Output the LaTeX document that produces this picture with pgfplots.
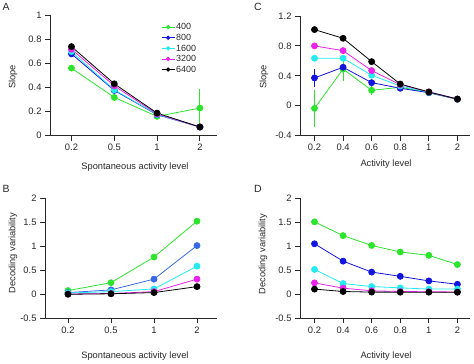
\documentclass[border=0pt]{standalone}
\usepackage{fontspec}
\setmainfont{Liberation Sans}
\usepackage{pgfplots}
\pgfplotsset{compat=1.18}
\definecolor{cG}{RGB}{45,228,45}
\definecolor{cB}{RGB}{20,20,225}
\definecolor{cBb}{RGB}{55,105,230}
\definecolor{cC}{RGB}{35,235,240}
\definecolor{cM}{RGB}{235,35,235}
\definecolor{cK}{RGB}{0,0,0}
\definecolor{axc}{RGB}{40,40,40}
\pgfplotsset{
  panel/.style={
    scale only axis, anchor=south west,
    axis lines=left, axis line style={-, line width=0.9bp, color=axc},
    tick align=outside, major tick length=5bp,
    tick style={line width=0.9bp, color=axc},
    clip=false,
    ticklabel style={font=\fontsize{9.4}{10}\selectfont, text=axc},
    label style={font=\fontsize{9.3}{10}\selectfont, text=axc},
    every axis plot/.append style={line width=0.8bp, mark=*, mark size=3bp},
    error bars/error bar style={line width=0.8bp},
    error bars/error mark=none,
  },
  catA/.style={xmin=-0.502, xmax=3.40, xtick={0,1,2,3}, xticklabels={0.2,0.5,1,2}},
  catC/.style={xmin=-0.507, xmax=5.44, xtick={0,1,2,3,4,5}, xticklabels={0.2,0.4,0.6,0.8,1,2}},
}
\begin{document}
\begin{tikzpicture}
\path[use as bounding box] (0,0) rectangle (474bp,364bp);
% ---------------- A
\begin{axis}[panel, catA, at={(50bp,228.3bp)}, width=167bp, height=120.7bp,
  ymin=0, ymax=1, ytick={0,0.2,0.4,0.6,0.8,1}, yticklabels={0,0.2,0.4,0.6,0.8,1},
  xlabel={Spontaneous activity level}, ylabel={Slope},
  xlabel style={at={(rel axis cs:0.509,-0.26)}, anchor=center},
  ylabel style={at={(rel axis cs:-0.222,0.486)}, anchor=center},
  legend style={at={(rel axis cs:0.665,0.945)}, anchor=north west, draw=none, fill=none,
    font=\fontsize{9}{9.5}\selectfont, text=axc, row sep=0pt, inner sep=0pt,
    nodes={text height=7bp, text depth=1.4bp, inner sep=1.1bp, anchor=west}},
  legend cell align=left,
  legend image code/.code={\draw[mark repeat=2,mark phase=2,#1,mark size=1.7bp] plot coordinates {(0bp,0bp) (6.5bp,0bp) (13bp,0bp)};},
]
\addplot[color=cG, error bars/.cd, y dir=both, y explicit] coordinates {(0,0.56) (1,0.317) (2,0.16) (3,0.229) +- (0,0.155)};
\addplot[color=cB] coordinates {(0,0.678) (1,0.375) (2,0.174) (3,0.072)};
\addplot[color=cC] coordinates {(0,0.697) (1,0.38) (2,0.176) (3,0.072)};
\addplot[color=cM] coordinates {(0,0.716) (1,0.413) (2,0.18) (3,0.072)};
\addplot[color=cK] coordinates {(0,0.738) (1,0.43) (2,0.187) (3,0.072)};
\legend{400,800,1600,3200,6400}
\end{axis}
% ---------------- C
\begin{axis}[panel, catC, at={(300bp,228.3bp)}, width=170bp, height=119.7bp,
  ymin=-0.4, ymax=1.2, ytick={-0.4,0,0.4,0.8,1.2}, yticklabels={-0.4,0,0.4,0.8,1.2},
  xlabel={Activity level}, ylabel={Slope},
  xlabel style={at={(rel axis cs:0.506,-0.236)}, anchor=center},
  ylabel style={at={(rel axis cs:-0.212,0.49)}, anchor=center},
]
\addplot[color=cG, error bars/.cd, y dir=both, y explicit] coordinates {(0,-0.035) +- (0,0.25) (1,0.49) +- (0,0.16) (2,0.207) +- (0,0.06) (3,0.247) (4,0.175) (5,0.087)};
\addplot[color=cB, error bars/.cd, y dir=both, y explicit] coordinates {(0,0.372) +- (0,0.12) (1,0.515) +- (0,0.05) (2,0.309) (3,0.234) (4,0.175) (5,0.087)};
\addplot[color=cC] coordinates {(0,0.635) (1,0.635) (2,0.408) (3,0.265) (4,0.18) (5,0.09)};
\addplot[color=cM] coordinates {(0,0.80) (1,0.737) (2,0.47) (3,0.282) (4,0.185) (5,0.09)};
\addplot[color=cK, error bars/.cd, y dir=both, y explicit] coordinates {(0,1.018) +- (0,0.04) (1,0.902) (2,0.59) (3,0.291) (4,0.184) (5,0.09)};
\end{axis}
% ---------------- B
\begin{axis}[panel, catA, xmin=-0.535, xmax=3.465, at={(45bp,45.5bp)}, width=172bp, height=120bp,
  ymin=-0.5, ymax=2, ytick={-0.5,0,0.5,1,1.5,2}, yticklabels={-0.5,0,0.5,1,1.5,2},
  xlabel={Spontaneous activity level}, ylabel={Decoding variability},
  xlabel style={at={(rel axis cs:0.523,-0.3125)}, anchor=center},
  ylabel style={at={(rel axis cs:-0.186,0.546)}, anchor=center},
]
\addplot[color=cG] coordinates {(0,0.082) (1,0.246) (2,0.78) (3,1.527)};
\addplot[color=cBb] coordinates {(0,0.04) (1,0.096) (2,0.32) (3,1.02)};
\addplot[color=cC] coordinates {(0,0.03) (1,0.06) (2,0.116) (3,0.59)};
\addplot[color=cM] coordinates {(0,0.01) (1,0.02) (2,0.06) (3,0.32)};
\addplot[color=cK] coordinates {(0,0.005) (1,0.015) (2,0.04) (3,0.164)};
\end{axis}
% ---------------- D
\begin{axis}[panel, catC, at={(300bp,45.5bp)}, width=170bp, height=120.5bp,
  ymin=-0.5, ymax=2, ytick={-0.5,0,0.5,1,1.5,2}, yticklabels={-0.5,0,0.5,1,1.5,2},
  xlabel={Activity level}, ylabel={Decoding variability},
  xlabel style={at={(rel axis cs:0.506,-0.311)}, anchor=center},
  ylabel style={at={(rel axis cs:-0.218,0.535)}, anchor=center},
]
\addplot[color=cG] coordinates {(0,1.505) (1,1.22) (2,1.015) (3,0.88) (4,0.81) (5,0.62)};
\addplot[color=cB] coordinates {(0,1.05) (1,0.69) (2,0.463) (3,0.375) (4,0.28) (5,0.21)};
\addplot[color=cC] coordinates {(0,0.518) (1,0.225) (2,0.163) (3,0.136) (4,0.11) (5,0.11)};
\addplot[color=cM] coordinates {(0,0.238) (1,0.13) (2,0.075) (3,0.06) (4,0.055) (5,0.05)};
\addplot[color=cK] coordinates {(0,0.11) (1,0.06) (2,0.048) (3,0.046) (4,0.046) (5,0.045)};
\end{axis}
% panel letters
\node[font=\fontsize{10.5}{12}\selectfont, text=axc] at (6bp,357bp) {A};
\node[font=\fontsize{10.5}{12}\selectfont, text=axc] at (258bp,357bp) {C};
\node[font=\fontsize{10.5}{12}\selectfont, text=axc] at (6bp,175bp) {B};
\node[font=\fontsize{10.5}{12}\selectfont, text=axc] at (258bp,175bp) {D};
\end{tikzpicture}
\end{document}
